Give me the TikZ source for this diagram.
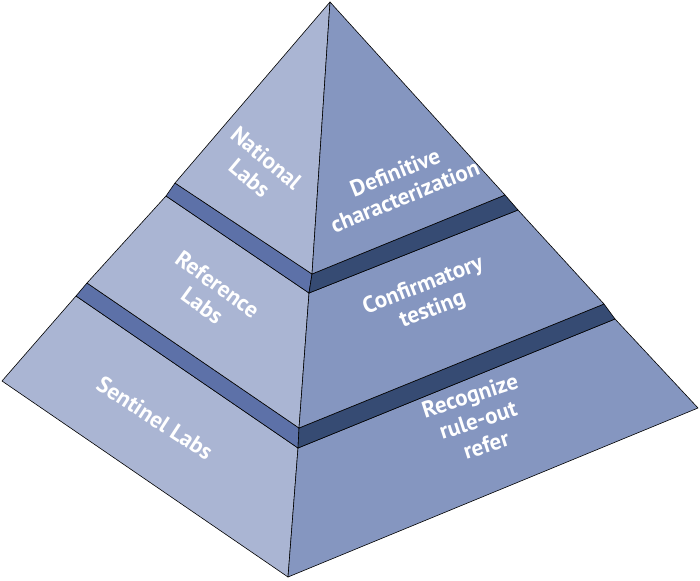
\documentclass[tikz,border=0pt]{standalone}
\usepackage{fontspec}
\setmainfont{PT Sans}
\begin{document}
\begin{tikzpicture}[x=1pt,y=-1pt,line join=round,
  lf/.style={fill=faceL,draw=black,line width=0.6pt},
  rf/.style={fill=faceR,draw=black,line width=0.6pt},
  bl/.style={fill=bandL,draw=black,line width=0.6pt},
  br/.style={fill=bandR,draw=black,line width=0.6pt},
  lbl/.style={text=white,font=\bfseries\fontsize{23}{26}\selectfont,align=center,inner sep=0pt}]
\definecolor{faceL}{HTML}{AAB5D3}
\definecolor{faceR}{HTML}{8596C0}
\definecolor{bandL}{HTML}{5D71A8}
\definecolor{bandR}{HTML}{364B73}
\useasboundingbox (0,0) rectangle (700,580);
% bottom tier
\draw[lf] (76,296) -- (298,448) -- (288,577) -- (2,381) -- cycle;
\draw[rf] (298,448) -- (615,319) -- (698,408) -- (288,577) -- cycle;
% band 2
\draw[bl] (87,283) -- (299,428) -- (298,448) -- (76,296) -- cycle;
\draw[br] (299,428) -- (604,304) -- (615,319) -- (298,448) -- cycle;
% middle tier
\draw[lf] (166,196) -- (309,293) -- (299,428) -- (87,283) -- cycle;
\draw[rf] (309,293) -- (518,210) -- (604,304) -- (299,428) -- cycle;
% band 1
\draw[bl] (175,183) -- (312,274) -- (309,293) -- (166,196) -- cycle;
\draw[br] (312,274) -- (505,195) -- (518,210) -- (309,293) -- cycle;
% top tier
\draw[lf] (330,2) -- (312,274) -- (175,183) -- cycle;
\draw[rf] (330,2) -- (505,195) -- (312,274) -- cycle;
% labels
\node[lbl,rotate=-40] (nat) at (258,168) {National\\Labs};
\node[lbl,rotate=22] (def) at (400,184) {Definitive\\characterization};
\node[lbl,rotate=-36] (ref) at (210,295) {Reference\\Labs};
\node[lbl,rotate=21] (con) at (428,298) {Confirmatory\\testing};
\node[lbl,rotate=-33] (sen) at (155,418) {Sentinel Labs};
\node[lbl,rotate=18] (rec) at (478,420) {Recognize\\rule-out\\refer};
\end{tikzpicture}
\end{document}
